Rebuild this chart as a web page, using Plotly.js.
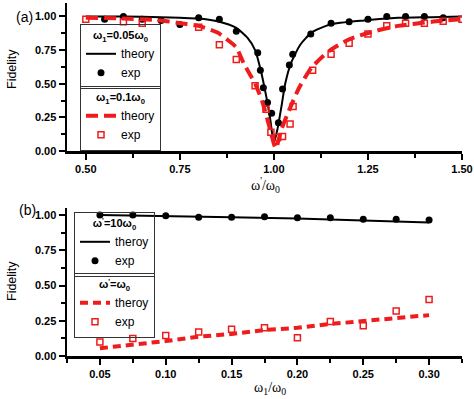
<!DOCTYPE html>
<html>
<head>
<meta charset="utf-8">
<script src="https://cdn.plot.ly/plotly-3.0.1.min.js"></script>
<style>html,body{margin:0;padding:0;background:#fff;}#chart{width:474px;height:399px;}</style>
</head>
<body>
<div id="chart"></div>
<script>
// ---- Panel (a): fidelity vs omega'/omega0 ----
const aBlackTheoryX = [0.50,0.60,0.70,0.75,0.80,0.85,0.88,0.90,0.93,0.95,0.965,0.98,0.99,1.00,1.01,1.02,1.03,1.045,1.07,1.10,1.15,1.24,1.33,1.42,1.50];
const aBlackTheoryY = [1.00,1.00,0.995,0.99,0.985,0.965,0.94,0.915,0.84,0.75,0.60,0.40,0.24,0.06,0.17,0.33,0.50,0.65,0.79,0.88,0.94,0.97,0.99,0.995,1.00];
const aBlackExpX = [0.55,0.60,0.65,0.70,0.75,0.80,0.855,0.90,0.957,0.964,0.972,0.983,0.994,1.012,1.023,1.041,1.05,1.098,1.152,1.20,1.25,1.30,1.35,1.40,1.45];
const aBlackExpY = [0.98,1.00,0.98,0.97,0.94,0.99,0.98,0.89,0.73,0.60,0.47,0.36,0.28,0.21,0.46,0.64,0.72,0.87,0.95,0.96,0.98,1.00,1.00,1.00,0.99];
const aRedTheoryX = [0.50,0.60,0.70,0.75,0.80,0.85,0.875,0.90,0.92,0.95,0.97,0.988,1.005,1.02,1.04,1.067,1.10,1.15,1.20,1.26,1.33,1.42,1.50];
const aRedTheoryY = [0.99,0.985,0.97,0.95,0.93,0.88,0.83,0.77,0.65,0.50,0.36,0.18,0.02,0.16,0.30,0.47,0.62,0.75,0.83,0.885,0.93,0.96,0.98];
const aRedExpX = [0.50,0.60,0.65,0.80,0.855,0.90,0.95,0.979,0.992,1.01,1.023,1.043,1.051,1.103,1.152,1.20,1.25,1.30,1.35,1.40,1.45,1.50];
const aRedExpY = [0.98,0.96,0.95,0.92,0.79,0.68,0.485,0.31,0.14,0.10,0.107,0.20,0.33,0.60,0.72,0.80,0.87,0.93,0.95,0.95,0.965,0.98];

// ---- Panel (b): fidelity vs omega1/omega0 ----
const bX = [0.05,0.075,0.10,0.125,0.15,0.175,0.20,0.225,0.25,0.275,0.30];
const bBlackExpY = [1.00,1.00,0.995,0.985,0.985,0.988,0.98,0.98,0.97,0.97,0.965];
const bBlackTheoryX = [0.05,0.10,0.15,0.20,0.25,0.30];
const bBlackTheoryY = [1.00,0.995,0.985,0.975,0.962,0.948];
const bRedExpY = [0.10,0.125,0.145,0.17,0.19,0.20,0.13,0.245,0.215,0.32,0.40];
const bRedTheoryY = [0.055,0.078,0.106,0.137,0.156,0.184,0.20,0.227,0.25,0.27,0.29];

const aLegend1Title = 'ω<sub>1</sub>=0.05ω<sub>0</sub>';
const aLegend2Title = 'ω<sub>1</sub>=0.1ω<sub>0</sub>';
const bLegend1Title = 'ω<sup>\'</sup>=10ω<sub>0</sub>';
const bLegend2Title = 'ω<sup>\'</sup>=ω<sub>0</sub>';

const W = 474, H = 399;
const px = v => v / W;
const py = v => 1 - v / H;
const RED = '#ee1c1c';
const SANS = 'Liberation Sans, Arial, sans-serif';
const SERIF = 'Liberation Serif, Times New Roman, serif';

const redSquare = {color: RED, size: 6, symbol: 'square-open', line: {color: RED, width: 1.5}};
const blackDot = {color: '#000', size: 7, symbol: 'circle'};

const traces = [
  {x: aBlackTheoryX, y: aBlackTheoryY, mode: 'lines', name: 'theory', xaxis: 'x', yaxis: 'y',
   line: {color: '#000', width: 2, shape: 'spline', smoothing: 0.6}, legend: 'legend'},
  {x: aBlackExpX, y: aBlackExpY, mode: 'markers', name: 'exp', xaxis: 'x', yaxis: 'y',
   marker: blackDot, legend: 'legend'},
  {x: aRedTheoryX, y: aRedTheoryY, mode: 'lines', name: 'theory', xaxis: 'x', yaxis: 'y',
   line: {color: RED, width: 4, dash: '12px,6px', shape: 'spline', smoothing: 0.6}, legend: 'legend2'},
  {x: aRedExpX, y: aRedExpY, mode: 'markers', name: 'exp', xaxis: 'x', yaxis: 'y',
   marker: redSquare, legend: 'legend2'},
  {x: bBlackTheoryX, y: bBlackTheoryY, mode: 'lines', name: 'theroy', xaxis: 'x2', yaxis: 'y2',
   line: {color: '#000', width: 2}, legend: 'legend3'},
  {x: bX, y: bBlackExpY, mode: 'markers', name: 'exp', xaxis: 'x2', yaxis: 'y2',
   marker: blackDot, legend: 'legend3'},
  {x: bX, y: bRedTheoryY, mode: 'lines', name: 'theroy', xaxis: 'x2', yaxis: 'y2',
   line: {color: RED, width: 4, dash: '8px,5px'}, legend: 'legend4'},
  {x: bX, y: bRedExpY, mode: 'markers', name: 'exp', xaxis: 'x2', yaxis: 'y2',
   marker: redSquare, legend: 'legend4'}
];

const axisCommon = {
  showline: true, linecolor: '#000', linewidth: 2.5, mirror: false,
  ticks: 'outside', ticklen: 6, tickwidth: 2, tickcolor: '#000',
  showgrid: false, zeroline: false,
  tickfont: {family: SANS, size: 11, color: '#000', weight: 'bold'},
  tickformat: '.2f'
};

function legendBox(x, y, title) {
  return {
    x: x, y: y, xanchor: 'left', yanchor: 'top', xref: 'paper', yref: 'paper',
    bordercolor: '#333', borderwidth: 1, bgcolor: 'rgba(255,255,255,0)',
    font: {family: SANS, size: 12, color: '#000'},
    title: {text: title, side: 'top center', font: {family: SANS, size: 11, color: '#000', weight: 'bold'}},
    tracegroupgap: 0, itemwidth: 30, traceorder: 'normal'
  };
}

const layout = {
  width: W, height: H,
  margin: {l: 0, r: 0, t: 0, b: 0},
  paper_bgcolor: '#fff', plot_bgcolor: 'rgba(0,0,0,0)',
  showlegend: true,
  xaxis: Object.assign({}, axisCommon, {domain: [px(67), px(462)], range: [0.45, 1.5], dtick: 0.25, tick0: 0.5,
    minor: {ticks: 'outside', ticklen: 4, tickwidth: 2, tickcolor: '#000', dtick: 0.125, tick0: 0.5}, anchor: 'y'}),
  yaxis: Object.assign({}, axisCommon, {domain: [1 - 151 / H, 1 - 3 / H], range: [0, 1.1], dtick: 0.25, tick0: 0,
    minor: {ticks: 'outside', ticklen: 4, tickwidth: 2, tickcolor: '#000', dtick: 0.125, tick0: 0}, anchor: 'x'}),
  xaxis2: Object.assign({}, axisCommon, {domain: [px(67), px(462)], range: [0.025, 0.325], dtick: 0.05, tick0: 0.05,
    minor: {ticks: 'outside', ticklen: 4, tickwidth: 2, tickcolor: '#000', dtick: 0.025, tick0: 0.025}, anchor: 'y2'}),
  yaxis2: Object.assign({}, axisCommon, {domain: [1 - 356 / H, 1 - 208 / H], range: [0, 1.05], dtick: 0.25, tick0: 0,
    minor: {ticks: 'outside', ticklen: 4, tickwidth: 2, tickcolor: '#000', dtick: 0.125, tick0: 0}, anchor: 'x2'}),
  legend: legendBox(px(80), py(24), aLegend1Title),
  legend2: legendBox(px(80), py(86), aLegend2Title),
  legend3: legendBox(px(74), py(212), bLegend1Title),
  legend4: legendBox(px(74), py(273), bLegend2Title),
  annotations: [
    {text: '(a)', x: px(14), y: py(17), xref: 'paper', yref: 'paper', xanchor: 'left', yanchor: 'middle',
     showarrow: false, font: {family: SANS, size: 14, color: '#000'}},
    {text: '(b)', x: px(17), y: py(210), xref: 'paper', yref: 'paper', xanchor: 'left', yanchor: 'middle',
     showarrow: false, font: {family: SANS, size: 14, color: '#000'}},
    {text: 'Fidelity', x: px(12), y: py(69), xref: 'paper', yref: 'paper', xanchor: 'center', yanchor: 'middle',
     textangle: -90, showarrow: false, font: {family: SANS, size: 12.5, color: '#000'}},
    {text: 'Fidelity', x: px(12), y: py(281), xref: 'paper', yref: 'paper', xanchor: 'center', yanchor: 'middle',
     textangle: -90, showarrow: false, font: {family: SANS, size: 12.5, color: '#000'}},
    {text: 'ω<sup>\'</sup>/ω<sub>0</sub>', x: px(265), y: py(185), xref: 'paper', yref: 'paper', xanchor: 'center', yanchor: 'middle',
     showarrow: false, font: {family: SERIF, size: 14, color: '#000'}},
    {text: 'ω<sub>1</sub>/ω<sub>0</sub>', x: px(270), y: py(388), xref: 'paper', yref: 'paper', xanchor: 'center', yanchor: 'middle',
     showarrow: false, font: {family: SERIF, size: 14, color: '#000'}}
  ]
};

Plotly.newPlot('chart', traces, layout, {staticPlot: true, displayModeBar: false});
</script>
</body>
</html>
